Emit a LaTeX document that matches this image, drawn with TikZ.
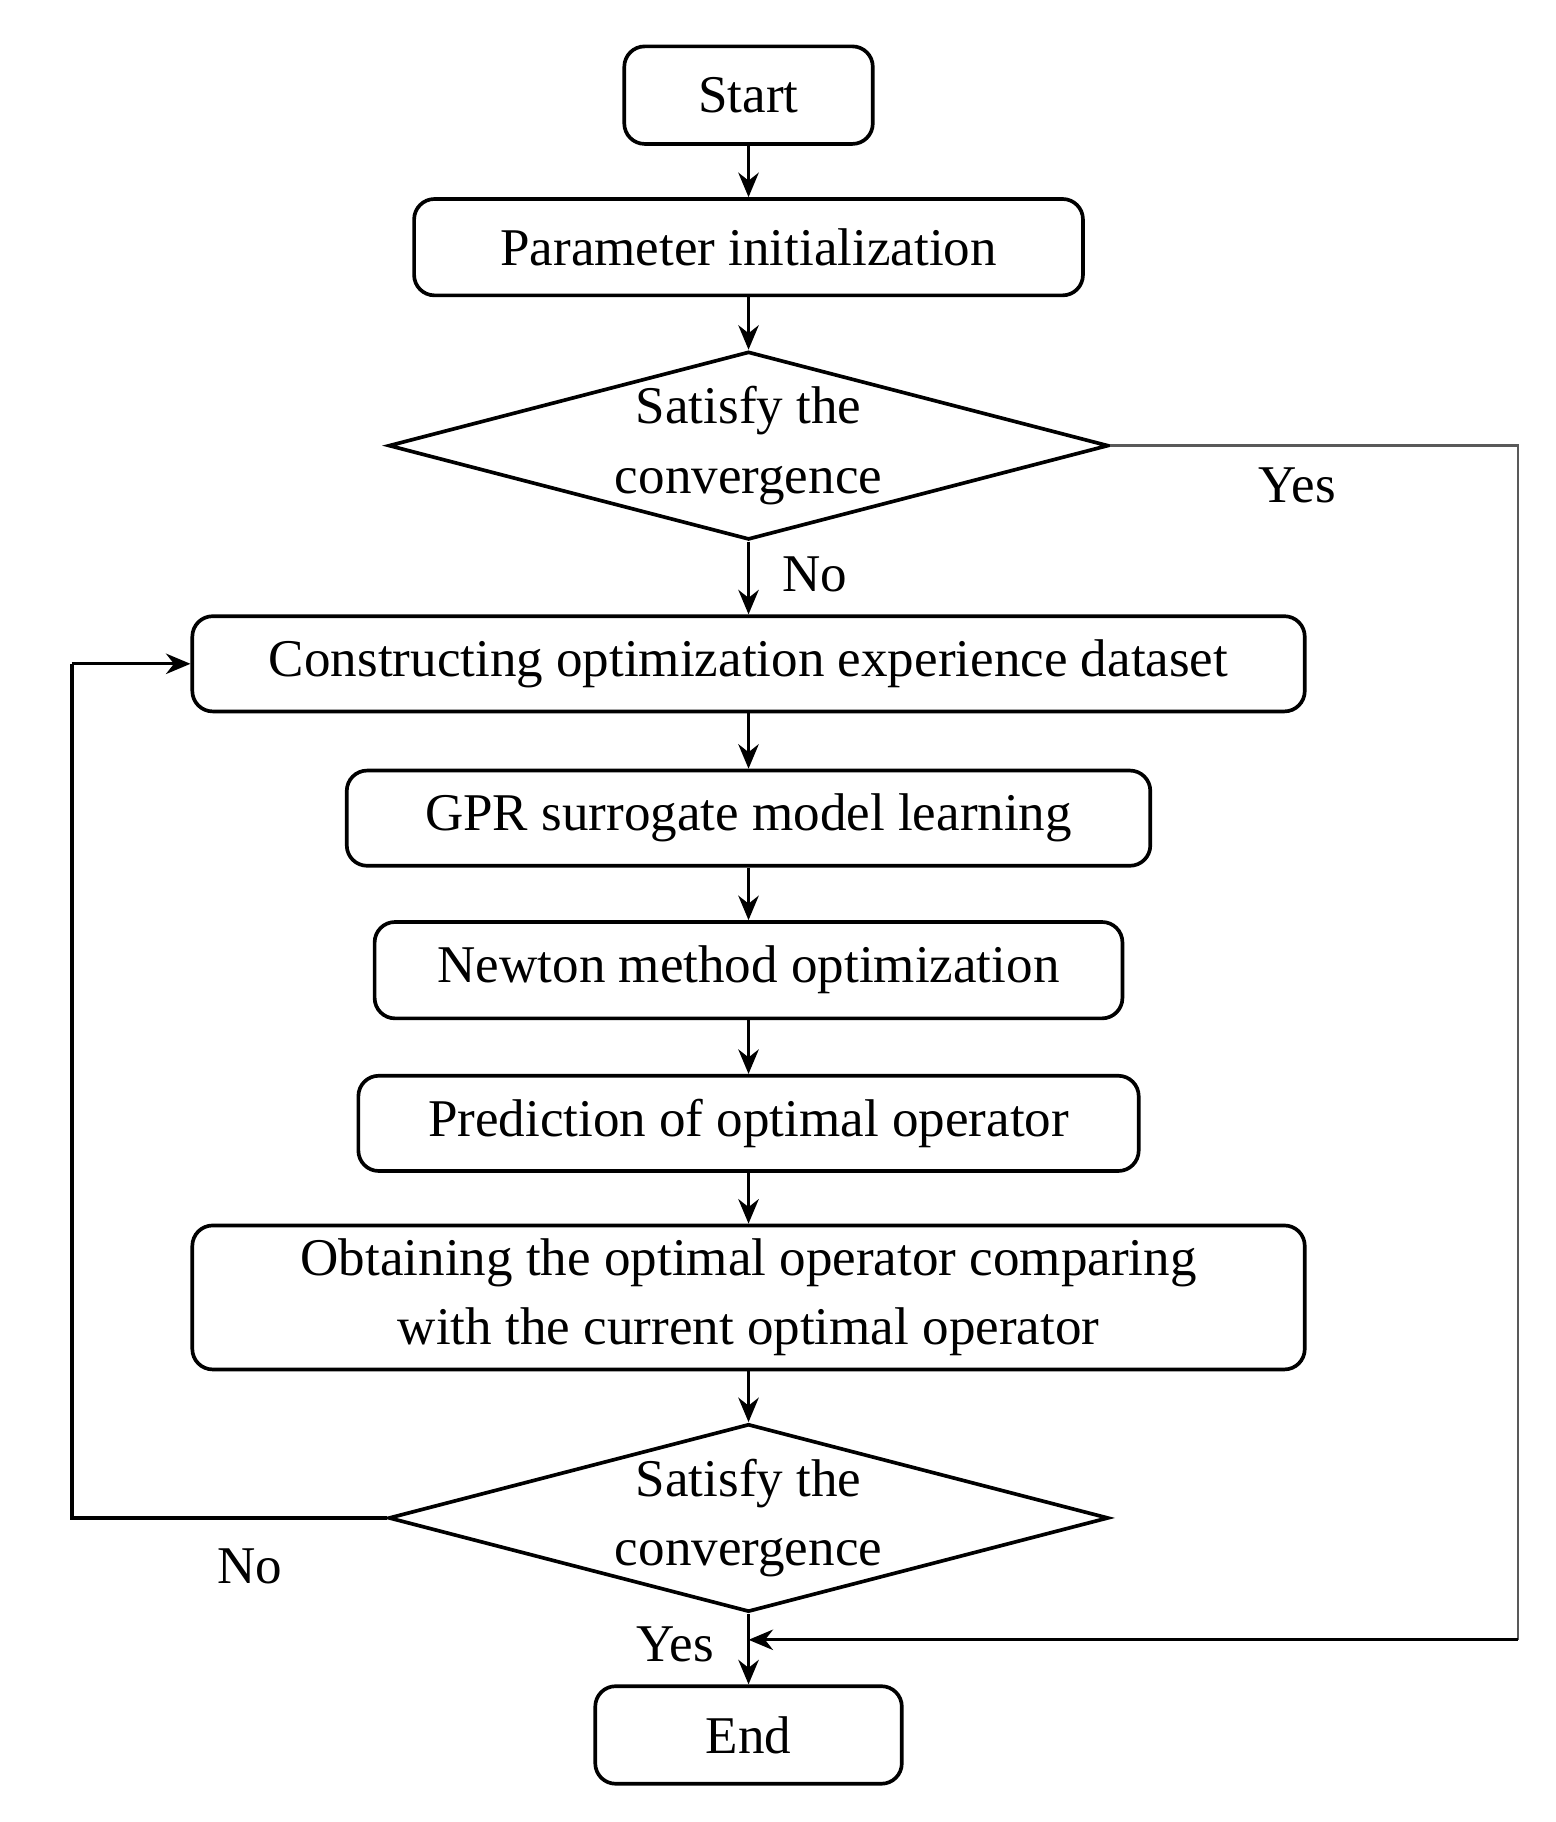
\documentclass[tikz,border=0pt]{standalone}
\usepackage{fontspec}
\setmainfont{Liberation Serif}
\usetikzlibrary{shapes.geometric,arrows.meta}
\begin{document}
\begin{tikzpicture}[x=0.01cm,y=-0.01cm,
  box/.style={draw,rounded corners=5pt,line width=0.9pt,inner sep=0pt,font=\fontsize{13}{17}\selectfont,align=center},
  dia/.style={draw,diamond,line width=0.9pt,inner sep=0pt,aspect=3.83,font=\fontsize{13}{17}\selectfont,align=center},
  lab/.style={font=\fontsize{13}{15}\selectfont},
  arr/.style={-{Stealth[length=6pt,width=5pt]},line width=0.8pt}]
\useasboundingbox (0,0) rectangle (1340,1570);
\node[box,minimum width=214\pgflinewidth*0+2.14cm,minimum height=0.84cm] (start) at (645,82) {Start};
\node[box,minimum width=5.76cm,minimum height=0.83cm] (param) at (645,213) {Parameter initialization};
\node[dia,minimum width=6.2cm,minimum height=1.62cm] (d1) at (645,384) {Satisfy the\\convergence};
\node[box,minimum width=9.58cm,minimum height=0.82cm] (cons) at (645,572) {Constructing optimization experience dataset};
\node[box,minimum width=6.92cm,minimum height=0.82cm] (gpr) at (645,705) {GPR surrogate model learning};
\node[box,minimum width=6.44cm,minimum height=0.83cm] (newt) at (645,836) {Newton method optimization};
\node[box,minimum width=6.72cm,minimum height=0.82cm] (pred) at (645,968) {Prediction of optimal operator};
\node[box,minimum width=9.58cm,minimum height=1.24cm] (obt) at (645,1118) {Obtaining the optimal operator comparing\\with the current optimal operator};
\node[dia,minimum width=6.2cm,minimum height=1.6cm] (d2) at (645,1308) {Satisfy the\\convergence};
\node[box,minimum width=2.64cm,minimum height=0.84cm] (end) at (645,1495) {End};
\coordinate (r1) at (1308,384);
\coordinate (r2) at (1308,1413);
\coordinate (m) at (645,1413);
\coordinate (l1) at (62,1308);
\coordinate (l2) at (62,572);
\draw[arr] (start) -- (param);
\draw[arr] (param) -- (d1);
\draw[arr] (d1) -- (cons);
\draw[arr] (cons) -- (gpr);
\draw[arr] (gpr) -- (newt);
\draw[arr] (newt) -- (pred);
\draw[arr] (pred) -- (obt);
\draw[arr] (obt) -- (d2);
\draw[arr] (d2) -- (end);
\draw[line width=0.6pt,gray!70!black] (d1.east) -- (r1) -- (r2);
\draw[arr] (r2) -- (m);
\draw[line width=0.8pt] (d2.west) -- (l1) -- (l2);
\draw[arr] (l2) -- (cons.west);
\node[lab] (y1) at (1118,418) {Yes};
\node[lab] (n1) at (702,495) {No};
\node[lab] (n2) at (215,1350) {No};
\node[lab] (y2) at (582,1417) {Yes};
\end{tikzpicture}
\end{document}
